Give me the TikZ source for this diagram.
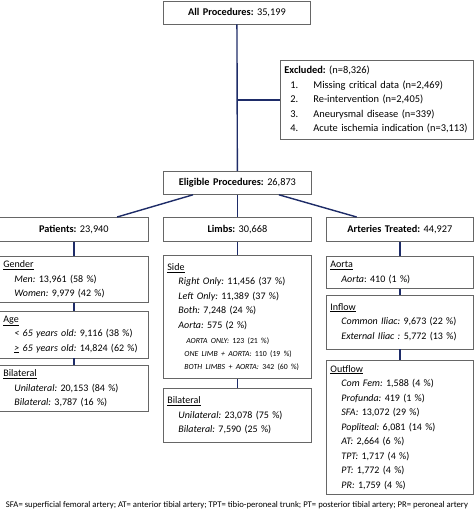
\documentclass[tikz,border=0pt]{standalone}
\usepackage{fontspec}
\setmainfont{Carlito}
\usetikzlibrary{positioning,shadows}
\definecolor{linkblue}{RGB}{30,44,104}
\newcommand{\indt}{\hspace*{11pt}}
\frenchspacing

\tikzset{
  box/.style={draw=black!60, line width=0.8pt, fill=white,
    drop shadow={shadow xshift=0.9pt, shadow yshift=-0.9pt, fill=black!45, opacity=1},
    anchor=north west, inner xsep=4pt, inner ysep=0pt, align=left,
    font=\fontsize{10}{14.5}\selectfont},
  headbox/.style={box, align=center, font=\fontsize{10.3}{12}\selectfont},
  link/.style={draw=linkblue, line width=1.4pt}
}

\begin{document}
\frenchspacing
\begin{tikzpicture}[x=1pt,y=-1pt]
\useasboundingbox (0,0) rectangle (474,515);

% top of the flow
\node[headbox, minimum height=23, text width=139] (all) at (163,0.5) {\textbf{All Procedures:} 35,199};
\node[box, minimum height=79, text width=185, font=\fontsize{10.4}{14.5}\selectfont] (excl) at (280,60) {\textbf{Excluded:} (n=8,326)\\
\hspace*{6pt}\makebox[23pt][l]{1.}Missing critical data (n=2,469)\\
\hspace*{6pt}\makebox[23pt][l]{2.}Re-intervention (n=2,405)\\
\hspace*{6pt}\makebox[23pt][l]{3.}Aneurysmal disease (n=339)\\
\hspace*{6pt}\makebox[23pt][l]{4.}Acute ischemia indication (n=3,113)};
\node[headbox, minimum height=23, text width=140] (elig) at (163,171) {\textbf{Eligible Procedures:} 26,873};

% column headers
\node[headbox, minimum height=24, text width=141] (pat) at (-1,217) {\textbf{Patients:} 23,940};
\node[headbox, minimum height=24, text width=140] (limbs) at (163,217) {\textbf{Limbs:} 30,668};
\node[headbox, minimum height=24, text width=139] (arts) at (326,217) {\textbf{Arteries Treated:} 44,927};

% patients
\node[box, minimum height=46, text width=141] (gender) at (-1,256) {\underline{Gender}\\
\indt\textit{Men:} 13,961 (58 \%)\\
\indt\textit{Women:} 9,979 (42 \%)};
\node[box, minimum height=47, text width=141] (age) at (-1,310.5) {\underline{Age}\\
\indt\textit{< 65 years old:} 9,116 (38 \%)\\
\indt\textit{\underline{>} 65 years old:} 14,824 (62 \%)};
\node[box, minimum height=46, text width=141] (bilpat) at (-1,365) {\underline{Bilateral}\\
\indt\textit{Unilateral:} 20,153 (84 \%)\\
\indt\textit{Bilateral:} 3,787 (16 \%)};

% limbs
\node[box, minimum height=123, text width=140] (side) at (163,255) {\underline{Side}\\
\indt\textit{Right Only:} 11,456 (37 \%)\\
\indt\textit{Left Only:} 11,389 (37 \%)\\
\indt\textit{Both:} 7,248 (24 \%)\\
\indt\textit{Aorta:} 575 (2 \%)\\[0.5pt]
{\fontsize{7.8}{9}\selectfont\hspace*{19pt}\textit{AORTA ONLY:} 123 (21 \%)}\\[-1.5pt]
{\fontsize{7.8}{9}\selectfont\hspace*{17pt}\textit{ONE LIMB + AORTA:} 110 (19 \%)}\\[-1.5pt]
{\fontsize{7.8}{9}\selectfont\hspace*{17pt}\textit{BOTH LIMBS + AORTA:} 342 (60 \%)}};
\node[box, minimum height=54, text width=140] (billimb) at (163,388) {\underline{Bilateral}\\
\indt\textit{Unilateral:} 23,078 (75 \%)\\
\indt\textit{Bilateral:} 7,590 (25 \%)};

% arteries
\node[box, minimum height=32, text width=139] (aorta) at (326,256) {\underline{Aorta}\\
\indt\textit{Aorta}: 410 (1 \%)};
\node[box, minimum height=54, text width=139] (inflow) at (326,294.5) {\underline{Inflow}\\
\indt\textit{Common Iliac:} 9,673 (22 \%)\\
\indt\textit{External Iliac :} 5,772 (13 \%)};
\node[box, minimum height=134, text width=139] (outflow) at (326,360) {\underline{Outflow}\\
\indt\textit{Com Fem:} 1,588 (4 \%)\\
\indt\textit{Profunda:} 419 (1 \%)\\
\indt\textit{SFA:} 13,072 (29 \%)\\
\indt\textit{Popliteal:} 6,081 (14 \%)\\
\indt\textit{AT:} 2,664 (6 \%)\\
\indt\textit{TPT:} 1,717 (4 \%)\\
\indt\textit{PT:} 1,772 (4 \%)\\
\indt\textit{PR:} 1,759 (4 \%)};

% footnote
\node[font=\fontsize{8.7}{9}\selectfont] (note) at (237,505) {SFA= superficial femoral artery; AT= anterior tibial artery; TPT= tibio-peroneal trunk; PT= posterior tibial artery; PR= peroneal artery};

% connectors
\draw[link] (all) -- (elig);
\draw[link] (all.south |- excl.west) -- (excl.west);
\draw[link] (elig.195) -- (pat.16.5);
\draw[link] (elig) -- (limbs);
\draw[link] (elig.344) -- (arts.164);
\draw[link] (pat) -- (gender);
\draw[link] (gender) -- (age);
\draw[link] (age) -- (bilpat);
\draw[link] (limbs) -- (side);
\draw[link] (side) -- (billimb);
\draw[link] (arts) -- (aorta);
\draw[link] (aorta) -- (inflow);
\draw[link] (inflow) -- (outflow);

\end{tikzpicture}
\end{document}
